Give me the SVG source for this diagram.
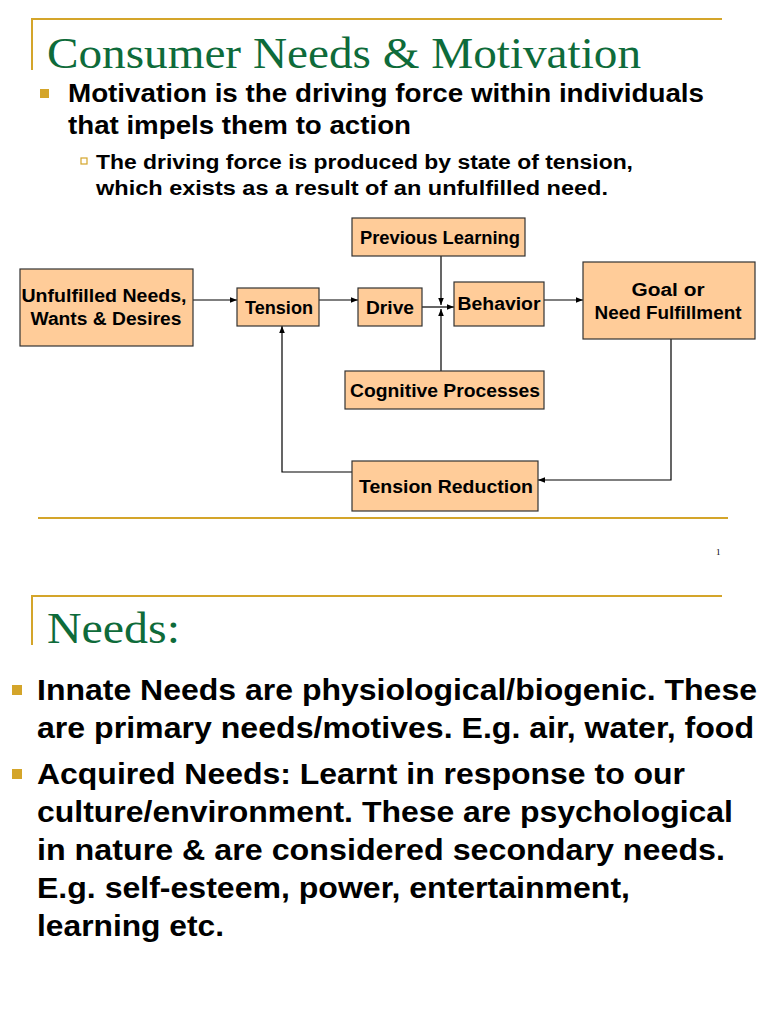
<svg xmlns="http://www.w3.org/2000/svg" width="768" height="1024" viewBox="0 0 768 1024">
<style>
.rule{stroke:#D4A52A;stroke-width:2;fill:none}
.title{font-family:"Liberation Serif",serif;font-size:44px;fill:#0E6B3A}
.b{font-family:"Liberation Sans",Arial,sans-serif;font-weight:bold;fill:#000}
.box{fill:#FFCC99;stroke:#333;stroke-width:1.2}
.lbl{font-family:"Liberation Sans",Arial,sans-serif;font-weight:bold;font-size:18px;text-anchor:middle;fill:#000}
.c{stroke:#000;stroke-width:1.2;fill:none}
</style>
<defs><marker id="a" viewBox="0 0 10 10" refX="10" refY="5" markerWidth="6" markerHeight="6" orient="auto"><path d="M0,1 L10,5 L0,9 z" fill="#000"/></marker></defs>
<rect width="768" height="1024" fill="#fff"/>
<path class="rule" d="M32,70 V19 H722"/>
<text class="title" x="47" y="68" textLength="594" lengthAdjust="spacingAndGlyphs">Consumer Needs &amp; Motivation</text>
<rect x="40" y="89" width="9" height="9" fill="#D4A52A"/>
<text class="b" font-size="25" x="68" y="102" textLength="636" lengthAdjust="spacingAndGlyphs">Motivation is the driving force within individuals</text>
<text class="b" font-size="25" x="68" y="134" textLength="343" lengthAdjust="spacingAndGlyphs">that impels them to action</text>
<rect x="81" y="158" width="6" height="6" fill="none" stroke="#D4A52A" stroke-width="1.2"/>
<text class="b" font-size="20" x="96" y="169" textLength="537" lengthAdjust="spacingAndGlyphs">The driving force is produced by state of tension,</text>
<text class="b" font-size="20" x="96" y="195" textLength="512" lengthAdjust="spacingAndGlyphs">which exists as a result of an unfulfilled need.</text>
<g id="connectors">
<line class="c" x1="193" y1="300" x2="237" y2="300" marker-end="url(#a)"/>
<line class="c" x1="319" y1="300" x2="358" y2="300" marker-end="url(#a)"/>
<line class="c" x1="422" y1="307" x2="454" y2="307" marker-end="url(#a)"/>
<line class="c" x1="441" y1="256" x2="441" y2="305" marker-end="url(#a)"/>
<line class="c" x1="441" y1="371" x2="441" y2="309" marker-end="url(#a)"/>
<line class="c" x1="544" y1="300" x2="583" y2="300" marker-end="url(#a)"/>
<path class="c" d="M671,339 V480 H538" marker-end="url(#a)"/>
<path class="c" d="M352,472 H282 V326" marker-end="url(#a)"/>
</g>
<g id="prev"><rect class="box" x="352" y="218" width="173" height="38"/><text class="lbl" x="440" y="244" textLength="160" lengthAdjust="spacingAndGlyphs">Previous Learning</text></g>
<g id="unf"><rect class="box" x="20" y="269" width="173" height="77"/><text class="lbl" x="104" y="302" textLength="165" lengthAdjust="spacingAndGlyphs">Unfulfilled Needs,</text><text class="lbl" x="106" y="325" textLength="151" lengthAdjust="spacingAndGlyphs">Wants &amp; Desires</text></g>
<g id="tension"><rect class="box" x="237" y="288" width="82" height="38"/><text class="lbl" x="279" y="314" textLength="68" lengthAdjust="spacingAndGlyphs">Tension</text></g>
<g id="drive"><rect class="box" x="358" y="288" width="64" height="38"/><text class="lbl" x="390" y="314" textLength="48" lengthAdjust="spacingAndGlyphs">Drive</text></g>
<g id="behavior"><rect class="box" x="454" y="282" width="90" height="44"/><text class="lbl" x="499" y="310" textLength="83" lengthAdjust="spacingAndGlyphs">Behavior</text></g>
<g id="goal"><rect class="box" x="583" y="262" width="172" height="77"/><text class="lbl" x="668" y="296" textLength="73" lengthAdjust="spacingAndGlyphs">Goal or</text><text class="lbl" x="668" y="319" textLength="147" lengthAdjust="spacingAndGlyphs">Need Fulfillment</text></g>
<g id="cog"><rect class="box" x="345" y="371" width="199" height="38"/><text class="lbl" x="445" y="397" textLength="190" lengthAdjust="spacingAndGlyphs">Cognitive Processes</text></g>
<g id="tr"><rect class="box" x="352" y="461" width="186" height="50"/><text class="lbl" x="446" y="493" textLength="174" lengthAdjust="spacingAndGlyphs">Tension Reduction</text></g>
<line class="rule" x1="38" y1="518" x2="728" y2="518"/>
<text x="716" y="555" font-family="Liberation Serif,serif" font-size="9">1</text>
<path class="rule" d="M32,645 V596 H722"/>
<text class="title" x="47" y="643" textLength="133" lengthAdjust="spacingAndGlyphs">Needs:</text>
<rect x="12" y="685" width="10" height="10" fill="#D4A52A"/>
<text class="b" font-size="30" x="37" y="700" textLength="720" lengthAdjust="spacingAndGlyphs">Innate Needs are physiological/biogenic. These</text>
<text class="b" font-size="30" x="37" y="738" textLength="717" lengthAdjust="spacingAndGlyphs">are primary needs/motives. E.g. air, water, food</text>
<rect x="12" y="769" width="10" height="10" fill="#D4A52A"/>
<text class="b" font-size="30" x="37" y="784" textLength="648" lengthAdjust="spacingAndGlyphs">Acquired Needs: Learnt in response to our</text>
<text class="b" font-size="30" x="37" y="822" textLength="696" lengthAdjust="spacingAndGlyphs">culture/environment. These are psychological</text>
<text class="b" font-size="30" x="37" y="860" textLength="688" lengthAdjust="spacingAndGlyphs">in nature &amp; are considered secondary needs.</text>
<text class="b" font-size="30" x="37" y="898" textLength="593" lengthAdjust="spacingAndGlyphs">E.g. self-esteem, power, entertainment,</text>
<text class="b" font-size="30" x="37" y="936" textLength="187" lengthAdjust="spacingAndGlyphs">learning etc.</text>
</svg>
